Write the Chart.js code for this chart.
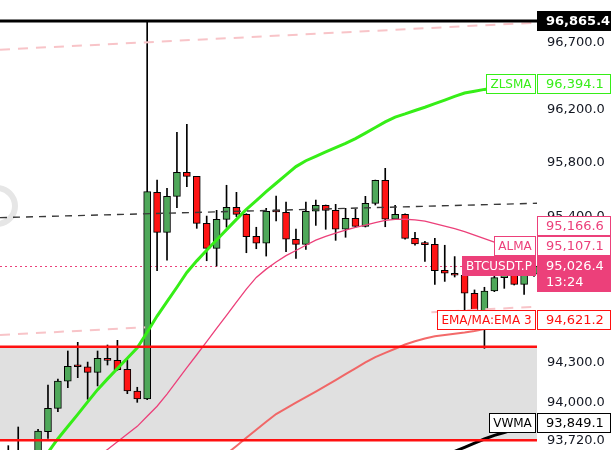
<!DOCTYPE html>
<html>
<head>
<meta charset="utf-8">
<title>BTCUSDT.P</title>
<style>
  html, body { margin: 0; padding: 0; background: #fff; }
  canvas { display: block; }
</style>
</head>
<body>
<canvas id="chart" width="616" height="450"></canvas>
<script src="https://cdn.jsdelivr.net/npm/chart.js@4.4.1/dist/chart.umd.min.js"></script>
<script>
// candles (one per bar, oldest first)
const opens = [93600, 93620, 93540, 93590, 93785, 93960, 94163, 94276, 94272, 94230,
  94335, 94320, 94252, 94090, 94030, 95580, 95280, 95550, 95730, 95700,
  95347, 95160, 95377, 95467, 95415, 95250, 95198, 95440, 95430, 95228,
  95190, 95438, 95483, 95445, 95303, 95385, 95325, 95497, 95670, 95378,
  95415, 95235, 95193, 95190, 94995, 94973, 94958, 94823, 94688, 94840,
  94940, 94967, 94890, 94967];
const highs = [93680, 93820, 93630, 93802, 94135, 94180, 94390, 94455, 94307, 94390,
  94435, 94470, 94325, 94118, 96865.4, 95672, 95610, 96030, 96090, 95700,
  95402, 95445, 95633, 95580, 95420, 95318, 95460, 95552, 95507, 95305,
  95507, 95522, 95485, 95490, 95460, 95455, 95550, 95672, 95760, 95483,
  95418, 95280, 95213, 95235, 95183, 95098, 94960, 94848, 94868, 94965,
  94995, 95003, 94975, 95040];
const lows = [93500, 93520, 93450, 93560, 93735, 93935, 94115, 94190, 94028, 94128,
  94285, 94245, 94070, 94005, 94025, 94992, 95072, 95465, 95622, 95310,
  95067, 95027, 95318, 95398, 95127, 95157, 95102, 95365, 95135, 95085,
  95152, 95332, 95303, 95220, 95243, 95317, 95320, 95485, 95322, 95375,
  95228, 95183, 95062, 94890, 94912, 94945, 94673, 94680, 94410, 94835,
  94860, 94885, 94815, 94950];
const closes = [93540, 93560, 93580, 93790, 93960, 94165, 94275, 94272, 94230, 94335,
  94320, 94250, 94090, 94030, 95585, 95280, 95550, 95730, 95700, 95347,
  95160, 95377, 95467, 95415, 95247, 95198, 95438, 95433, 95228, 95190,
  95438, 95483, 95445, 95303, 95385, 95325, 95497, 95670, 95378, 95415,
  95235, 95193, 95188, 94992, 94973, 94958, 94823, 94685, 94840, 94940,
  94960, 94890, 94967, 95026.4];

// indicators
const zlsma = [null, null, 93439, 93534, 93629, 93732, 93824, 93915, 94008, 94100,
  94181, 94259, 94336, 94414, 94531, 94652, 94760, 94868, 94979, 95066,
  95146, 95223, 95300, 95377, 95452, 95518, 95585, 95648, 95711, 95773,
  95817, 95850, 95883, 95916, 95948, 95983, 96024, 96066, 96108, 96144,
  96168, 96194, 96218, 96245, 96272, 96300, 96325, 96338, 96352, 96363,
  96371, 96378, 96385, 96394.1];
const alma = [null, null, null, null, null, null, null, null, 93535, 93594,
  93652, 93710, 93768, 93825, 93901, 93976, 94067, 94166, 94265, 94362,
  94460, 94559, 94657, 94756, 94854, 94942, 95004, 95058, 95105, 95144,
  95183, 95221, 95250, 95274, 95296, 95317, 95334, 95352, 95370, 95377,
  95378, 95374, 95364, 95345, 95326, 95307, 95286, 95259, 95233, 95207,
  95180, 95155, 95129, 95107.1];
const ema3 = [null, null, null, null, null, null, null, null, null, null,
  null, null, null, null, null, null, null, null, null, null,
  93497, 93558, 93618, 93678, 93739, 93799, 93860, 93917, 93960, 94002,
  94044, 94086, 94128, 94172, 94216, 94260, 94304, 94344, 94376, 94407,
  94439, 94463, 94484, 94500, 94510, 94520, 94529, 94540, 94554, 94567,
  94580, 94594, 94608, 94621.2];
const vwma = [null, null, null, null, null, null, null, null, null, null,
  null, null, null, null, null, null, null, null, null, null,
  null, null, null, null, null, null, null, null, null, null,
  null, null, null, null, null, null, null, null, null, null,
  93481, 93512, 93544, 93575, 93606, 93637, 93668, 93699, 93730, 93757,
  93779, 93802, 93826, 93849.1];

// price scale labels
const priceTicks = [96700, 96200, 95800, 95400, 94300, 94000, 93720];

// drawings (prices; trend lines given at the left and right edge of the view)
const highLine = 96865.4;
const zoneTop = 94422;
const zoneBottom = 93720;
const lastPrice = 95026.4;
const countdown = '13:24';
const pinkLevel = 95166.6;
const dashedTrend = [95390, 95498];
const channelTop = [96650, 96853];
const channelBottom = [94510, 94723];
const channelBottomShown = [[-0.84, 13.8], [42.2, 53.3]]; // bar ranges where it shows

const GREEN = '#36ee17';
const PINK = '#ec407a';
const RED = '#ff1010';
const UP = '#4fa85a';
const DOWN = '#ff1414';
const VALUE_FONT = '13px "DejaVu Sans"';
const NAME_FONT = '12px "DejaVu Sans"';

const fmt = v => v.toLocaleString('en-US', {minimumFractionDigits: 1, maximumFractionDigits: 1});
const idx = opens.map((_, i) => i);
const pts = arr => idx.map(i => ({x: i, y: arr[i]}));

const tagDefs = [
  {value: highLine, color: '#fff', fill: '#000', border: '#000', bold: true},
  {value: zlsma[zlsma.length - 1], name: 'ZLSMA', color: GREEN, fill: '#fff', border: GREEN},
  {value: pinkLevel, color: PINK, fill: '#fff', border: PINK},
  {value: alma[alma.length - 1], name: 'ALMA', color: PINK, fill: '#fff', border: PINK},
  {value: ema3[ema3.length - 1], name: 'EMA/MA:EMA 3', color: RED, fill: '#fff', border: RED},
  {value: vwma[vwma.length - 1], name: 'VWMA', color: '#000', fill: '#fff', border: '#000'},
];

function box(ctx, x, y, w, h, fill, border) {
  ctx.fillStyle = fill;
  ctx.fillRect(x, y, w, h);
  ctx.strokeStyle = border;
  ctx.lineWidth = 1;
  ctx.strokeRect(Math.round(x) + 0.5, Math.round(y) + 0.5, Math.round(w) - 1, h - 1);
}

function hline(ctx, a, y, color, width, dash) {
  ctx.strokeStyle = color;
  ctx.lineWidth = width;
  ctx.setLineDash(dash || []);
  ctx.beginPath();
  ctx.moveTo(a.left, y);
  ctx.lineTo(a.right, y);
  ctx.stroke();
}

function ray(ctx, a, yScale, prices, color, width, dash) {
  ctx.strokeStyle = color;
  ctx.lineWidth = width;
  ctx.setLineDash(dash);
  ctx.beginPath();
  ctx.moveTo(a.left, yScale.getPixelForValue(prices[0]));
  ctx.lineTo(a.right, yScale.getPixelForValue(prices[1]));
  ctx.stroke();
}

const overlay = {
  id: 'overlay',
  beforeDatasetsDraw(chart) {
    const {ctx, chartArea: a, scales: {y}} = chart;
    ctx.save();
    ctx.beginPath();
    ctx.rect(a.left, a.top, a.width, a.height);
    ctx.clip();
    // bit of the watermark at the left edge
    ctx.strokeStyle = '#e6e6e6';
    ctx.lineWidth = 6;
    ctx.beginPath();
    ctx.arc(a.left - 3, 206, 18, -Math.PI / 2, Math.PI / 2);
    ctx.stroke();
    // zone
    const zt = y.getPixelForValue(zoneTop);
    const zb = y.getPixelForValue(zoneBottom);
    ctx.fillStyle = '#e0e0e0';
    ctx.fillRect(a.left, zt, a.width, zb - zt);
    // last price
    hline(ctx, a, Math.round(y.getPixelForValue(lastPrice)) + 0.5, PINK, 1, [2, 3]);
    ctx.restore();
  },
  afterDatasetsDraw(chart) {
    const {ctx, chartArea: a, scales: {x, y}} = chart;
    ctx.save();
    ctx.beginPath();
    ctx.rect(a.left, a.top, a.width, a.height);
    ctx.clip();
    ray(ctx, a, y, channelTop, '#f8c4c8', 2, [10, 8]);
    channelBottomShown.forEach(([from, to]) => {
      ctx.save();
      const x0 = x.getPixelForValue(from), x1 = x.getPixelForValue(to);
      ctx.beginPath();
      ctx.rect(x0, a.top, x1 - x0, a.height);
      ctx.clip();
      ray(ctx, a, y, channelBottom, '#f8c4c8', 2, [10, 8]);
      ctx.restore();
    });
    ray(ctx, a, y, dashedTrend, '#3a3a3a', 1.4, [7, 6]);
    hline(ctx, a, y.getPixelForValue(zoneTop), RED, 2.5);
    hline(ctx, a, y.getPixelForValue(zoneBottom), RED, 2.5);
    hline(ctx, a, y.getPixelForValue(highLine), '#000', 3);
    ctx.restore();
  },
  afterDraw(chart) {
    const {ctx, chartArea: a, scales: {y}} = chart;
    ctx.save();
    ctx.textBaseline = 'middle';
    const boxH = 20, valX = a.right, valW = 74, textX = a.right + 9;
    const py = y.getPixelForValue(lastPrice);
    const mainTop = Math.round(py - boxH / 2);
    const mainH = 36;

    // keep the tags from overlapping the last price tag
    const tags = tagDefs.map(t => ({...t, cy: y.getPixelForValue(t.value)}));
    const above = tags.filter(t => t.cy < py).sort((p, q) => q.cy - p.cy);
    const below = tags.filter(t => t.cy >= py).sort((p, q) => p.cy - q.cy);
    let limit = mainTop;
    above.forEach(t => { t.cy = Math.min(t.cy, limit - boxH / 2); limit = t.cy - boxH / 2; });
    limit = mainTop + mainH;
    below.forEach(t => { t.cy = Math.max(t.cy, limit + boxH / 2); limit = t.cy + boxH / 2; });

    tags.forEach(t => {
      const top = Math.round(t.cy - boxH / 2);
      ctx.font = (t.bold ? 'bold ' : '') + VALUE_FONT;
      box(ctx, valX, top, valW, boxH, t.fill, t.border);
      ctx.fillStyle = t.color;
      ctx.textAlign = 'left';
      ctx.fillText(fmt(t.value), textX, top + boxH / 2 + 0.5);
      if (t.name) {
        ctx.font = NAME_FONT;
        const w = Math.ceil(ctx.measureText(t.name).width) + 8;
        box(ctx, a.right - 1 - w, top, w, boxH, '#fff', t.border);
        ctx.fillStyle = t.color;
        ctx.textAlign = 'center';
        ctx.fillText(t.name, a.right - 1 - w / 2, top + boxH / 2 + 0.5);
      }
    });

    // last price tag
    ctx.font = NAME_FONT;
    const name = 'BTCUSDT.P';
    const w = Math.ceil(ctx.measureText(name).width) + 8;
    ctx.fillStyle = PINK;
    ctx.fillRect(a.right - 1 - w, mainTop, w, boxH);
    ctx.fillRect(valX, mainTop, valW, mainH);
    ctx.fillStyle = '#fff';
    ctx.textAlign = 'center';
    ctx.fillText(name, a.right - 1 - w / 2, mainTop + boxH / 2 + 0.5);
    ctx.font = VALUE_FONT;
    ctx.textAlign = 'left';
    ctx.fillText(fmt(lastPrice), textX, mainTop + 10.5);
    ctx.fillText(countdown, textX, mainTop + 27);
    ctx.restore();
  }
};

new Chart(document.getElementById('chart'), {
  type: 'bar',
  data: {
    datasets: [
      {type: 'line', data: pts(zlsma), borderColor: GREEN, borderWidth: 3, pointRadius: 0, order: 0},
      {type: 'line', data: pts(vwma), borderColor: '#000', borderWidth: 3, pointRadius: 0, order: 0},
      {type: 'line', data: pts(alma), borderColor: PINK, borderWidth: 1.3, pointRadius: 0, order: 0},
      {type: 'line', data: pts(ema3), borderColor: 'rgba(242, 90, 90, 0.9)', borderWidth: 2, pointRadius: 0, order: 0},
      {
        data: idx.map(i => ({x: i, y: [opens[i], closes[i]]})),
        backgroundColor: idx.map(i => closes[i] >= opens[i] ? UP : DOWN),
        borderColor: '#000',
        borderWidth: 1,
        borderSkipped: false,
        barThickness: 7,
        minBarLength: 2,
        grouped: false,
        order: 1,
      },
      {
        data: idx.map(i => ({x: i, y: [lows[i], highs[i]]})),
        backgroundColor: '#000',
        borderWidth: 0,
        barThickness: 1,
        grouped: false,
        order: 2,
      },
    ],
  },
  options: {
    responsive: false,
    animation: false,
    devicePixelRatio: 1,
    layout: {padding: 0},
    plugins: {legend: {display: false}, tooltip: {enabled: false}},
    scales: {
      x: {
        type: 'linear',
        min: -0.837,
        max: 53.3,
        offset: false,
        display: false,
      },
      y: {
        position: 'right',
        min: 93647.5,
        max: 97022.5,
        afterBuildTicks: s => { s.ticks = priceTicks.map(v => ({value: v})); },
        afterFit: s => {
          s.width = 79;
          s.paddingTop = 0;
          s.paddingBottom = 0;
        },
        grid: {display: false, drawTicks: false},
        border: {display: false},
        ticks: {
          padding: 10,
          color: '#131722',
          font: {family: 'DejaVu Sans', size: 13},
          callback: v => fmt(v),
        },
      },
    },
  },
  plugins: [overlay],
});
</script>
</body>
</html>
